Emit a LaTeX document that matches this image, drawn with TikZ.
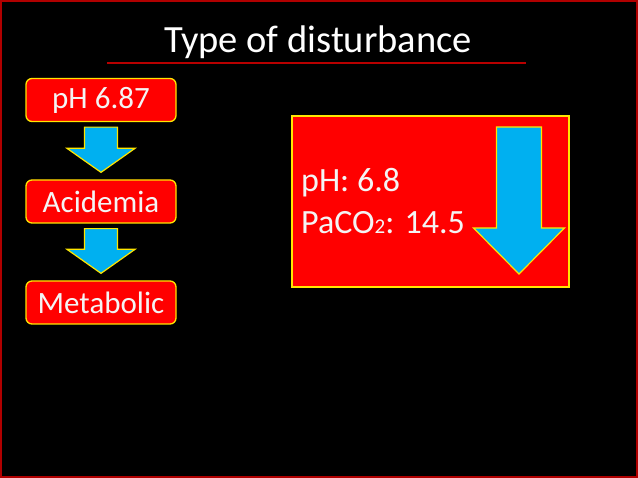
\documentclass[tikz,border=0pt]{standalone}
\usepackage{fontspec}
\setmainfont{Carlito}
\usepackage{xcolor}
\definecolor{slidered}{HTML}{FF0000}
\definecolor{framered}{HTML}{B00000}
\definecolor{edgeyel}{HTML}{FFE600}
\definecolor{arrowcyan}{HTML}{00B0F0}
\definecolor{textwhite}{HTML}{F4F4F4}
\usepackage{tikz}
\usetikzlibrary{calc,positioning}
\tikzset{
  stepbox/.style={rectangle, rounded corners=6pt, draw=edgeyel, line width=1.3pt, fill=slidered,
    minimum width=150pt, minimum height=43pt, inner sep=0pt, align=center,
    text=textwhite, font=\fontsize{31}{31}\selectfont},
  valuebox/.style={rectangle, draw=edgeyel, line width=1.3pt, fill=slidered,
    minimum width=277pt, minimum height=171pt, inner sep=0pt},
  valtext/.style={anchor=base west, inner sep=0pt, text=textwhite,
    font=\fontsize{34}{34}\selectfont},
  bluearrow/.style={fill=arrowcyan, draw=edgeyel, line width=1.2pt, line join=miter},
}
\begin{document}
\begin{tikzpicture}[x=1pt, y=-1pt]
  \useasboundingbox (0,0) rectangle (638,478);
  \fill[black] (0,0) rectangle (638,478);
  \draw[framered, line width=1.6pt] (0.8,0.8) rectangle (637.2,477.2);

  % title
  \node[anchor=base, inner sep=0pt, text=white, font=\fontsize{38.5}{38.5}\selectfont] (title) at (318,53) {Type of disturbance};
  \draw[framered!90!red, line width=1.2pt] (107,63) coordinate (ulA) -- (526,63) coordinate (ulB);

  % left chain
  \node[stepbox] (ph)   at (101,100)   {pH 6.87};
  \node[stepbox] (acid) at (101,201.5) {Acidemia};
  \node[stepbox] (meta) at (101,302.5) {Metabolic};
  \foreach \a/\b in {ph/acid, acid/meta} {
    \draw[bluearrow] ($(\a.south)+(-16.5,5)$) -- ($(\a.south)+(16.5,5)$)
      -- ($(\b.north)+(16.5,-31)$) -- ($(\b.north)+(34,-31)$) -- ($(\b.north)+(0,-7)$)
      -- ($(\b.north)+(-34,-31)$) -- ($(\b.north)+(-16.5,-31)$) -- cycle;
  }

  % right panel
  \node[valuebox] (panel) at (430.5,201.5) {};
  \node[valtext] (phval) at (301,192) {pH: 6.8};
  \node[valtext] (pco2)  at (301,234) {PaCO{\fontsize{21}{21}\selectfont 2}: 14.5};
  \coordinate (bigtop) at (519,127);
  \coordinate (bigtip) at (519,274);
  \draw[bluearrow] ($(bigtop)+(-22.5,0)$) -- ($(bigtop)+(22.5,0)$)
    -- ($(bigtip)+(22.5,-46)$) -- ($(bigtip)+(45.5,-46)$) -- (bigtip)
    -- ($(bigtip)+(-45.5,-46)$) -- ($(bigtip)+(-22.5,-46)$) -- cycle;
\end{tikzpicture}
\end{document}
